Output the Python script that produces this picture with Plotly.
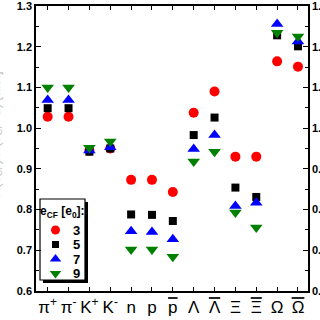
import plotly.graph_objects as go

def bar(s):
    return f'<span style="text-decoration:overline">{s}</span>'

categories = ["π<sup>+</sup>", "π<sup>-</sup>", "K<sup>+</sup>", "K<sup>-</sup>", "n", "p",
              bar("p"), "Λ", bar("Λ"), "Ξ", bar("Ξ"), "Ω", bar("Ω")]
series_names = ["3", "5", "7", "9"]
vals_3 = [1.028, 1.028, 0.945, 0.950, 0.873, 0.873, 0.843, 1.038, 1.090, 0.930, 0.930, 1.164, 1.151]
vals_5 = [1.049, 1.049, 0.942, 0.950, 0.788, 0.787, 0.772, 0.983, 1.026, 0.854, 0.831, 1.228, 1.201]
vals_7 = [1.069, 1.069, 0.945, 0.953, 0.747, 0.745, 0.727, 0.949, 0.983, 0.809, 0.817, 1.256, 1.213]
vals_9 = [1.100, 1.100, 0.952, 0.967, 0.702, 0.702, 0.684, 0.918, 0.942, 0.793, 0.756, 1.234, 1.225]
y_ticks = [0.6, 0.7, 0.8, 0.9, 1.0, 1.1, 1.2, 1.3]

styles = [("circle", 10, "#ff0000"), ("square", 8, "#000000"),
          ("triangle-up", 11, "#0000ff"), ("triangle-down", 11, "#008000")]

W, H = 320, 320
L, R, T, B = 36, 12, 6, 29
pw, ph = W - L - R, H - T - B

def px(x):  # pixel x -> paper
    return (x - L) / pw

def py(y):  # pixel y -> paper
    return (H - B - y) / ph

fig = go.Figure()
for name, vals, (sym, sz, col) in zip(series_names, [vals_3, vals_5, vals_7, vals_9], styles):
    fig.add_trace(go.Scatter(x=categories, y=vals, mode="markers", name=name, showlegend=False,
                             marker=dict(symbol=sym, size=sz, color=col, line=dict(width=0))))
fig.add_trace(go.Scatter(x=categories, y=vals_3, mode="markers", yaxis="y2",
                         marker=dict(opacity=0), showlegend=False, hoverinfo="skip"))

# custom legend (pixel-based layout on a hidden overlay axis)
box = dict(x0=40, x1=85, y0=199, y1=280)
row_y0, row_dy = 230, 14.5
mk_x, txt_x = 55.5, 76
annotations = []
for i, (name, (sym, sz, col)) in enumerate(zip(series_names, styles)):
    yy = row_y0 + i * row_dy
    fig.add_trace(go.Scatter(x=[px(mk_x)], y=[py(yy)], xaxis="x3", yaxis="y3", mode="markers",
                             showlegend=False, hoverinfo="skip",
                             marker=dict(symbol=sym, size=sz - 1, color=col, line=dict(width=0))))
    annotations.append(dict(text=f"<b>{name}</b>", xref="paper", yref="paper", x=px(txt_x), y=py(yy),
                            xanchor="center", yanchor="middle", showarrow=False,
                            font=dict(size=13, color="black")))
annotations.append(dict(text="<b>e<sub>CF</sub> [e<sub>0</sub>]:</b>", xref="paper", yref="paper",
                        x=px(62.5), y=py(211.5), xanchor="center", yanchor="middle",
                        showarrow=False, font=dict(size=12, color="black")))
annotations.append(dict(text="R(e<sub>CF</sub>)/R(e<sub>CF</sub>=1) [a.u.]", textangle=-90,
                        xref="paper", yref="paper", x=px(-4), y=0.55, xanchor="center",
                        yanchor="middle", showarrow=False,
                        font=dict(size=13, color="#c4c4c4")))

shapes = [
    dict(type="rect", xref="paper", yref="paper", layer="below",
         x0=px(box["x0"] + 3), x1=px(box["x1"] + 3), y0=py(box["y1"] + 3), y1=py(box["y0"] + 3),
         fillcolor="black", line=dict(width=0)),
    dict(type="rect", xref="paper", yref="paper", layer="below",
         x0=px(box["x0"]), x1=px(box["x1"]), y0=py(box["y1"]), y1=py(box["y0"]),
         fillcolor="white", line=dict(color="black", width=1.2)),
]

axis_font = dict(family="Liberation Sans, Arial", size=11, color="black")
yax = dict(range=[0.6, 1.3], tickmode="array", tickvals=y_ticks,
           ticktext=[f"<b>{v:.1f}</b>" for v in y_ticks], ticklabeloverflow="allow",
           ticks="inside", ticklen=5, tickwidth=1.2, tickcolor="black", automargin=False,
           showline=True, linecolor="black", linewidth=1.5, showgrid=False, zeroline=False,
           tickfont=axis_font,
           minor=dict(dtick=0.05, tick0=0.6, ticks="inside", ticklen=3, tickwidth=1.2, tickcolor="black"))
fig.update_layout(
    width=W, height=H,
    margin=dict(l=L, r=R, t=T, b=B),
    plot_bgcolor="white", paper_bgcolor="white",
    font=dict(family="Liberation Sans, Arial", color="black"),
    xaxis=dict(type="category", range=[-0.56, 12.48], tickmode="array", tickvals=categories,
               ticktext=categories, ticks="inside", ticklen=4, tickwidth=1.2, automargin=False,
               tickcolor="black", showline=True, linecolor="black", linewidth=1.5, mirror="ticks",
               showgrid=False, tickfont=dict(family="Liberation Sans, Arial", size=17, color="black"),
               tickangle=0),
    yaxis=yax,
    yaxis2=dict(yax, overlaying="y", side="right", anchor="x"),
    xaxis3=dict(overlaying="x", range=[0, 1], visible=False, anchor="y3"),
    yaxis3=dict(overlaying="y", range=[0, 1], visible=False, anchor="x3"),
    showlegend=False,
    shapes=shapes,
    annotations=annotations,
)
fig.write_html("out.html")
